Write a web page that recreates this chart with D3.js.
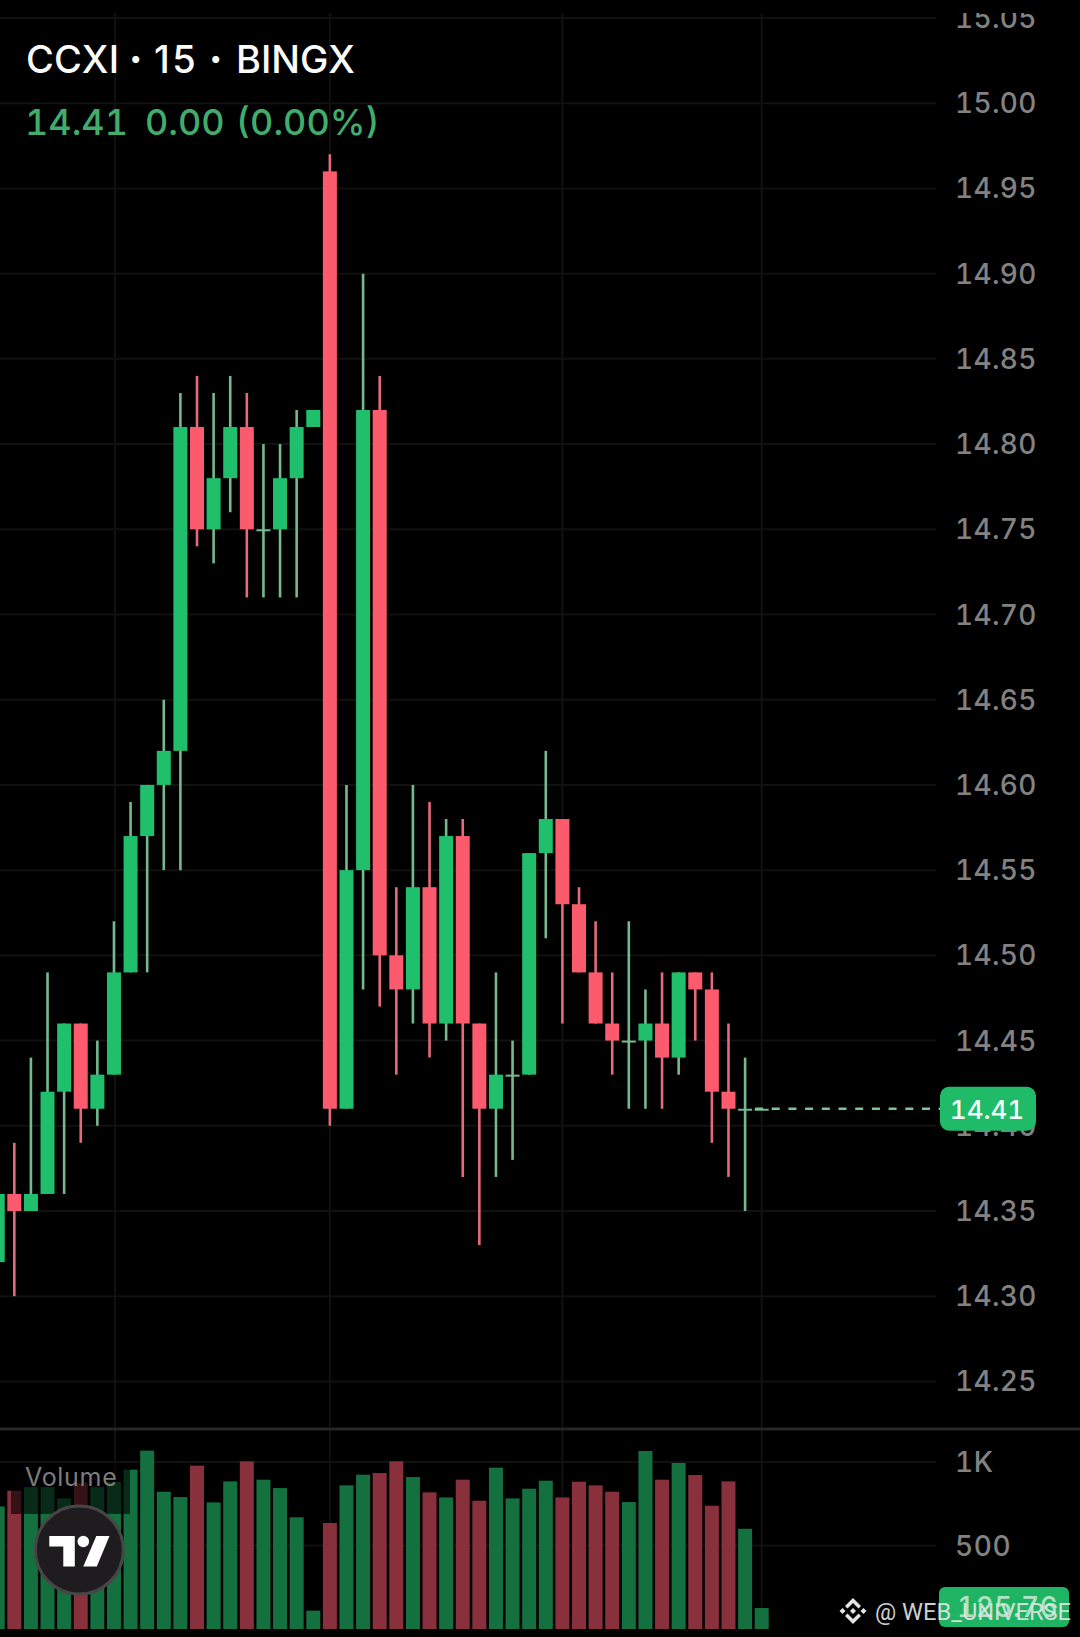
<!DOCTYPE html>
<html>
<head>
<meta charset="utf-8">
<script src="https://cdn.jsdelivr.net/npm/d3@7/dist/d3.min.js"></script>
<style>
html,body{margin:0;padding:0;background:#000;}
svg{display:block;}
text{font-family:Inter,"Noto Sans",sans-serif;font-variant-numeric:tabular-nums;font-feature-settings:"tnum" 1;}
</style>
</head>
<body>
<script>
const opens  = [14.32,14.36,14.35,14.36,14.42,14.46,14.41,14.43,14.49,14.57,14.60,14.62,14.81,14.75,14.78,14.81,14.75,14.75,14.78,14.81,14.96,14.41,14.55,14.82,14.50,14.48,14.54,14.46,14.57,14.46,14.41,14.43,14.43,14.56,14.58,14.53,14.49,14.46,14.45,14.45,14.46,14.44,14.49,14.48,14.42,14.41,14.41];
const closes = [14.36,14.35,14.36,14.42,14.46,14.41,14.43,14.49,14.57,14.60,14.62,14.81,14.75,14.78,14.81,14.75,14.75,14.78,14.81,14.82,14.41,14.55,14.82,14.50,14.48,14.54,14.46,14.57,14.46,14.41,14.43,14.43,14.56,14.58,14.53,14.49,14.46,14.45,14.45,14.46,14.44,14.49,14.48,14.42,14.41,14.41,14.41];
const highs  = [14.36,14.39,14.44,14.49,14.46,14.46,14.45,14.52,14.59,14.60,14.65,14.83,14.84,14.83,14.84,14.83,14.80,14.80,14.82,14.82,14.97,14.60,14.90,14.84,14.54,14.60,14.59,14.58,14.58,14.46,14.49,14.45,14.56,14.62,14.58,14.54,14.52,14.49,14.52,14.48,14.49,14.49,14.49,14.49,14.46,14.44,14.41];
const lows   = [14.32,14.30,14.35,14.36,14.36,14.39,14.40,14.43,14.49,14.49,14.55,14.55,14.74,14.73,14.76,14.71,14.71,14.71,14.71,14.81,14.40,14.41,14.48,14.47,14.43,14.46,14.44,14.45,14.37,14.33,14.37,14.38,14.43,14.51,14.46,14.49,14.46,14.43,14.41,14.41,14.41,14.43,14.45,14.39,14.37,14.35,14.41];
const volumes= [734,828,850,850,782,874,850,880,954,1068,822,790,978,758,884,1004,894,844,669,110,635,860,924,934,1004,910,818,788,894,768,966,782,840,888,788,882,860,822,760,1066,894,994,922,738,884,600,125.76];
const priceTicks = [15.05,15.00,14.95,14.90,14.85,14.80,14.75,14.70,14.65,14.60,14.55,14.50,14.45,14.40,14.35,14.30,14.25];
const volumeTicks = [1000,500];
const volumeTickLabels = ["1K","500"];
const timeGridIndex = [7.06,20,34,46];
const lastPrice = 14.41;
const lastVolumeLabel = "125.76";
const titleParts = ["CCXI","\u00B7","15","\u00B7","BINGX"];
const quoteParts = ["14.41","0.00","(0.00%)"];

const W = 1080, H = 1637, gridRight = 936;
const x = d3.scaleLinear().domain([0,46]).range([-2.3,761.7]);
const y = d3.scaleLinear().domain([14.35,15.05]).range([1211,18]);
const yV = d3.scaleLinear().domain([0,1000]).range([1629,1462]);
const idx = d3.range(opens.length);
const up = i => closes[i] >= opens[i];
const bodyW = 14, wickW = 2.6;
const C = {bodyUp:"#20bf6b",bodyDn:"#fb5b6d",wickUp:"#76b98f",wickDn:"#e56a7b",volUp:"#157040",volDn:"#88303b",grid:"#111111",axis:"#828282"};

const svg = d3.select("body").append("svg").attr("width",W).attr("height",H).attr("viewBox",`0 0 ${W} ${H}`);
svg.append("rect").attr("width",W).attr("height",H).attr("fill","#000");
const defs = svg.append("defs");
defs.append("clipPath").attr("id","top").append("rect").attr("x",0).attr("y",13).attr("width",W).attr("height",H-13);

const main = svg.append("g").attr("clip-path","url(#top)");

// grid
main.append("g").selectAll("line").data(priceTicks).join("line")
  .attr("x1",0).attr("x2",gridRight).attr("y1",d=>y(d)).attr("y2",d=>y(d))
  .attr("stroke",C.grid).attr("stroke-width",2);
main.append("g").selectAll("line").data(timeGridIndex).join("line")
  .attr("x1",d=>x(d)).attr("x2",d=>x(d)).attr("y1",13).attr("y2",1629)
  .attr("stroke",C.grid).attr("stroke-width",2);
main.append("g").selectAll("line").data(volumeTicks).join("line")
  .attr("x1",0).attr("x2",gridRight).attr("y1",d=>yV(d)).attr("y2",d=>yV(d))
  .attr("stroke",C.grid).attr("stroke-width",2);
svg.append("line").attr("x1",0).attr("x2",W).attr("y1",1429).attr("y2",1429).attr("stroke","#262626").attr("stroke-width",3);

// price axis labels
const axisG = main.append("g");
axisG.selectAll("text").data(priceTicks).join("text")
  .attr("x",955).attr("y",d=>y(d)+10)
  .attr("fill",C.axis).attr("font-size",28).attr("font-weight",500).attr("letter-spacing",0.3)
  .text(d=>d.toFixed(2));

// volume bars
svg.append("g").selectAll("rect").data(idx).join("rect")
  .attr("x",i=>x(i)-bodyW/2).attr("width",bodyW)
  .attr("y",i=>yV(volumes[i])).attr("height",i=>yV(0)-yV(volumes[i]))
  .attr("fill",i=>up(i)?C.volUp:C.volDn);

// volume axis labels
svg.append("g").selectAll("text").data(volumeTicks).join("text")
  .attr("x",955).attr("y",d=>yV(d)+10)
  .attr("fill",C.axis).attr("font-size",28).attr("font-weight",500).attr("letter-spacing",0.6)
  .text((d,i)=>volumeTickLabels[i]);

// candles
const candles = svg.append("g");
candles.selectAll("line").data(idx).join("line")
  .attr("x1",i=>x(i)).attr("x2",i=>x(i))
  .attr("y1",i=>y(highs[i])).attr("y2",i=>y(lows[i]))
  .attr("stroke",i=>up(i)?C.wickUp:C.wickDn).attr("stroke-width",wickW);
candles.selectAll("rect").data(idx).join("rect")
  .attr("x",i=>x(i)-bodyW/2).attr("width",bodyW)
  .attr("y",i=>Math.min(y(opens[i]),y(closes[i])))
  .attr("height",i=>Math.max(Math.abs(y(opens[i])-y(closes[i])),2))
  .attr("fill",i=>opens[i]===closes[i]?C.wickUp:(up(i)?C.bodyUp:C.bodyDn));

// last price line & tag
svg.append("line").attr("x1",x(46)-6.7).attr("x2",941).attr("y1",y(lastPrice)).attr("y2",y(lastPrice))
  .attr("stroke","#7cc597").attr("stroke-width",2.4).attr("stroke-dasharray","8 8.7");
svg.append("rect").attr("x",940).attr("width",96).attr("y",y(lastPrice)-22).attr("height",44).attr("rx",9)
  .attr("fill","#1fbb68");
svg.append("text").attr("x",987).attr("y",y(lastPrice)+10).attr("text-anchor","middle")
  .attr("fill","#f2fbf5").attr("font-size",26).attr("font-weight",500).text(lastPrice.toFixed(2));

// Volume legend
svg.append("rect").attr("x",11).attr("y",1463).attr("width",119).attr("height",51).attr("fill","#000").attr("fill-opacity",0.62);
svg.append("text").attr("x",25).attr("y",1486).attr("fill","#7d7d7d").attr("font-size",25).attr("font-weight",400).attr("letter-spacing",0.7).text("Volume");

// TradingView badge
const logo = svg.append("g").attr("transform","translate(79.3,1550)");
logo.append("circle").attr("r",44).attr("fill","#1e1c1e").attr("stroke","#474545").attr("stroke-width",3);
logo.append("path").attr("fill","#fff").attr("d","M-30,-14H-4.5V16.5H-16V-3.5H-30Z");
logo.append("circle").attr("cx",4).attr("cy",-8.5).attr("r",5.8).attr("fill","#fff");
logo.append("path").attr("fill","#fff").attr("d","M17,-14H30.2L17.5,16.5H4Z");

// Last volume tag
svg.append("rect").attr("x",939).attr("y",1587).attr("width",130).attr("height",40).attr("rx",6).attr("fill","#1fb463");
svg.append("text").attr("x",957).attr("y",1617).attr("fill","#d8efe0").attr("fill-opacity",0.8).attr("font-size",28).attr("font-weight",500).attr("letter-spacing",0.5).text(lastVolumeLabel);

// Watermark
const wm = svg.append("g").attr("transform","translate(853,1611)").attr("fill","#e4e4e4");
const diamond = (cx,cy,r)=>`M${cx},${cy-r}L${cx+r},${cy}L${cx},${cy+r}L${cx-r},${cy}Z`;
wm.append("path").attr("d",diamond(-10.5,0,3));
wm.append("path").attr("d",diamond(10.5,0,3));
wm.append("path").attr("d",diamond(0,0,3));
wm.append("path").attr("d","M0,-13L8,-5L5.5,-2.5L0,-8L-5.5,-2.5L-8,-5Z");
wm.append("path").attr("d","M0,13L8,5L5.5,2.5L0,8L-5.5,2.5L-8,5Z");
svg.append("text").attr("x",875).attr("y",1620).attr("fill","#e4e4e4").attr("fill-opacity",0.92)
  .style("font-family","Roboto").attr("font-size",24).attr("font-weight",400)
  .attr("textLength",196).attr("lengthAdjust","spacingAndGlyphs").text("@ WEB_UNIVERSE");

// Header
const titleX = [26,129,154,209,236];
const titleWeight = [500,800,500,800,500];
const titleSpacing = [0.2,0,2.5,0,0];
svg.append("g").selectAll("text").data(titleParts).join("text")
  .attr("x",(d,i)=>titleX[i]).attr("y",73).attr("fill","#fbfbfb").attr("font-size",38)
  .attr("font-weight",(d,i)=>titleWeight[i]).attr("letter-spacing",(d,i)=>titleSpacing[i])
  .style("font-feature-settings",'"tnum" 0').style("font-variant-numeric","normal").text(d=>d);
const quoteX = [25,145,236];
svg.append("g").selectAll("text").data(quoteParts).join("text")
  .attr("x",(d,i)=>quoteX[i]).attr("y",135).attr("fill","#41ad6c").attr("font-size",36).attr("font-weight",500).text(d=>d);
</script>
</body>
</html>
